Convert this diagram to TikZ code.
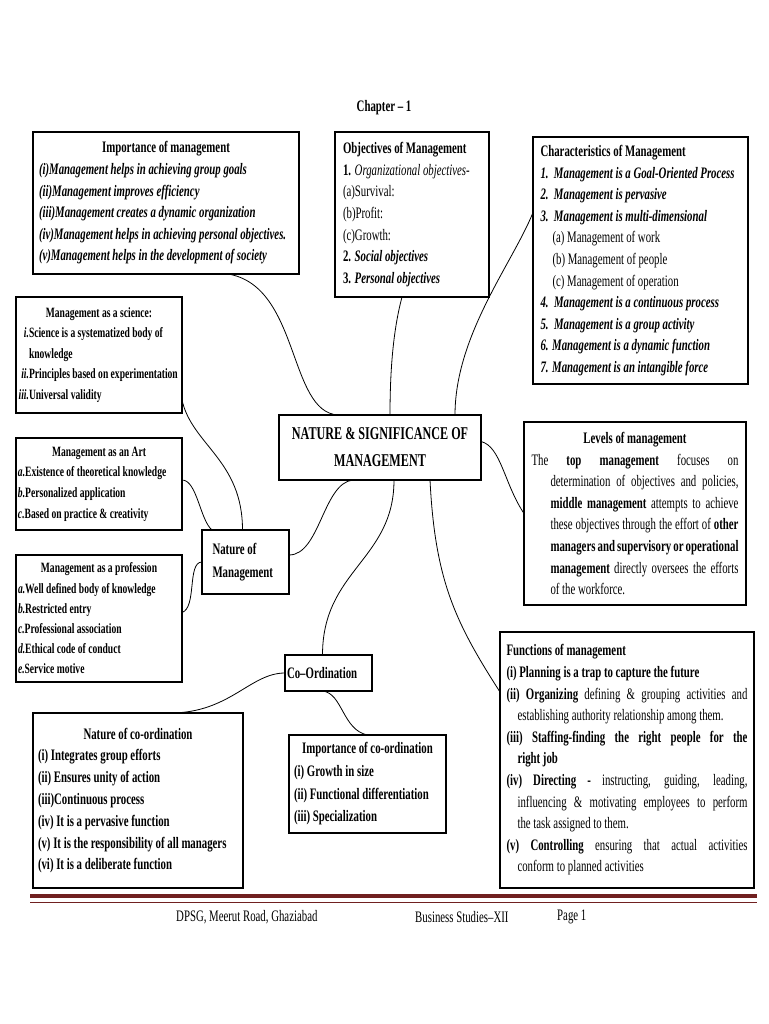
\documentclass[tikz,border=0pt]{standalone}
\usepackage{fontspec}
\setmainfont{Liberation Serif}[FakeStretch=0.675]
\usetikzlibrary{positioning}
\definecolor{footred}{RGB}{112,32,32}

\newcommand{\head}[1]{\makebox[\linewidth]{\textbf{#1}}}
\newcommand{\bi}[1]{\textbf{\textit{#1}}}
\newcommand{\fullln}[1]{\makebox[\linewidth][s]{#1}}
\newcommand{\hangln}[2][11pt]{\hspace*{#1}\makebox[\dimexpr\linewidth-#1\relax][s]{#2}}
\newcommand{\hangend}[2][11pt]{\hspace*{#1}#2}
\newcommand{\numr}[1]{\makebox[11pt][r]{\textit{#1}}}

\begin{document}
\begin{tikzpicture}[x=1pt, y=-1pt,
    card/.style={draw, line width=1.1pt, outer sep=0pt, anchor=north west, align=flush left,
                 font=\fontsize{16}{21.6}\selectfont, inner xsep=6pt, inner ysep=0pt},
    small/.style={card, font=\fontsize{14.2}{20.6}\selectfont\bfseries, inner xsep=2pt},
    wire/.style={line width=0.8pt}]
  \fill[white] (0,0) rectangle (768,1024);
  \useasboundingbox (0,0) rectangle (768,1024);

  \node[font=\fontsize{16}{20}\selectfont\bfseries] (chap) at (384,108) {Chapter -- 1};

  \node[card, text width=254pt, minimum width=266pt, minimum height=142pt] (imp) at (33,132) {%
    \head{Importance of management}\\
    \bi{(i)Management helps in achieving group goals}\\
    \bi{(ii)Management improves efficiency}\\
    \bi{(iii)Management creates a dynamic organization}\\
    \bi{(iv)Management helps in achieving personal objectives.}\\
    \bi{(v)Management helps in the development of society}};

  \node[card, text width=138pt, minimum width=154pt, minimum height=165pt, inner xsep=8pt] (obj) at (335,132) {%
    \textbf{Objectives of Management}\\
    \textbf{1.} \textit{Organizational objectives-}\\
    (a)Survival:\\
    (b)Profit:\\
    (c)Growth:\\
    \textbf{2.} \bi{Social objectives}\\
    \textbf{3.} \bi{Personal objectives}};

  \node[card, text width=200pt, minimum width=215pt, minimum height=247pt, inner xsep=7.5pt] (chr) at (533,137) {%
    \textbf{Characteristics of Management}\\
    \bi{1.\ \ Management is a Goal-Oriented Process}\\
    \bi{2.\ \ Management is pervasive}\\
    \bi{3.\ \ Management is multi-dimensional}\\
    \hspace*{12pt}(a) Management of work\\
    \hspace*{12pt}(b) Management of people\\
    \hspace*{12pt}(c) Management of operation\\
    \bi{4.\ \ Management is a continuous process}\\
    \bi{5.\ \ Management is a group activity}\\
    \bi{6. Management is a dynamic function}\\
    \bi{7. Management is an intangible force}};

  \node[small, text width=162pt, minimum width=166pt, minimum height=116pt] (sci) at (16,297) {%
    \head{Management as a science:}\\
    \numr{i.}Science is a systematized body of\\
    \hspace*{11pt}knowledge\\
    \numr{ii.}Principles based on experimentation\\
    \numr{iii.}Universal validity};

  \node[card, font=\fontsize{18}{27}\selectfont\bfseries, align=flush center, text width=190pt,
        minimum width=201pt, minimum height=65pt] (ctr) at (279,415) {NATURE \& SIGNIFICANCE OF\\MANAGEMENT};

  \node[card, text width=207pt, minimum width=222pt, minimum height=183pt, inner xsep=7.5pt] (lev) at (524,422) {%
    \head{Levels of management}\\
    \fullln{The \textbf{top management} focuses on}\\
    \hangln[19pt]{determination of objectives and policies,}\\
    \hangln[19pt]{\textbf{middle management} attempts to achieve}\\
    \hangln[19pt]{these objectives through the effort of \textbf{other}}\\
    \hangln[19pt]{\textbf{managers and supervisory or operational}}\\
    \hangln[19pt]{\textbf{management} directly oversees the efforts}\\
    \hangend[19pt]{of the workforce.}};

  \node[small, text width=162pt, minimum width=166pt, minimum height=92pt] (art) at (16,438) {%
    \head{Management as an Art}\\
    \textit{a.}Existence of theoretical knowledge\\
    \textit{b.}Personalized application\\
    \textit{c.}Based on practice \& creativity};

  \node[card, font=\fontsize{16}{23}\selectfont\bfseries, text width=66pt, minimum width=87pt,
        minimum height=64pt] (nom) at (202,530) {Nature of\\Management};

  \node[small, font=\fontsize{14.2}{20.2}\selectfont\bfseries, text width=162pt, minimum width=166pt,
        minimum height=127pt] (prof) at (16,555) {%
    \head{Management as a profession}\\
    \textit{a.}Well defined body of knowledge\\
    \textit{b.}Restricted entry\\
    \textit{c.}Professional association\\
    \textit{d.}Ethical code of conduct\\
    \textit{e.}Service motive};

  \node[card, font=\fontsize{16}{21.6}\selectfont\bfseries, text width=83pt, minimum width=87pt,
        minimum height=36pt, inner xsep=2pt] (coord) at (285,655) {Co--Ordination};

  \node[card, text width=241pt, minimum width=254pt, minimum height=256pt, inner xsep=6.5pt] (fun) at (500,632) {%
    \textbf{Functions of management}\\
    \textbf{(i) Planning is a trap to capture the future}\\
    \fullln{\textbf{(ii) Organizing} defining \& grouping activities and}\\
    \hangend{establishing authority relationship among them.}\\
    \fullln{\textbf{(iii) Staffing-finding the right people for the}}\\
    \hangend{\textbf{right job}}\\
    \fullln{\textbf{(iv) Directing -} instructing, guiding, leading,}\\
    \hangln{influencing \& motivating employees to perform}\\
    \hangend{the task assigned to them.}\\
    \fullln{\textbf{(v) Controlling} ensuring that actual activities}\\
    \hangend{conform to planned activities}};

  \node[card, font=\fontsize{16}{21.8}\selectfont\bfseries, text width=200pt, minimum width=210pt,
        minimum height=175pt, inner xsep=5pt] (ncoord) at (33,713) {%
    \head{Nature of co-ordination}\\
    (i) Integrates group efforts\\
    (ii) Ensures unity of action\\
    (iii)Continuous process\\
    (iv) It is a pervasive function\\
    (v) It is the responsibility of all managers\\
    (vi) It is a deliberate function\par\vspace{12pt}};

  \node[card, font=\fontsize{16}{22.7}\selectfont\bfseries, text width=147pt, minimum width=157pt,
        minimum height=98pt, inner xsep=5pt] (icoord) at (289,735) {%
    \head{Importance of co-ordination}\\
    (i) Growth in size\\
    (ii) Functional differentiation\\
    (iii) Specialization};

  \draw[wire] ([xshift=62pt]imp.south) .. controls +(72,12) and +(-50,-3) .. ([xshift=-42pt]ctr.north);
  \draw[wire] ([xshift=-10pt]obj.south) .. controls +(-8,30) and +(0,-50) .. ([xshift=10pt]ctr.north);
  \draw[wire] ([yshift=48pt]chr.west) .. controls +(-20,50) and +(0,-80) .. ([xshift=75pt]ctr.north);
  \draw[wire] ([yshift=6pt]ctr.east) .. controls +(20,5) and +(-20,-30) .. (lev.west);
  \draw[wire] ([xshift=14pt]ctr.south) .. controls +(0,80) and +(0,-85) .. ([xshift=-6pt]coord.north);
  \draw[wire] ([xshift=50pt]ctr.south) .. controls +(5,100) and +(-45,-70) .. ([yshift=-60pt]fun.north west);
  \draw[wire] ([xshift=-27pt]ctr.south) .. controls +(-30,3) and +(31,0) .. ([yshift=7pt]nom.east);
  \draw[wire] ([yshift=-45pt]sci.east) .. controls +(10,45) and +(0,-70) .. ([xshift=-3pt]nom.north);
  \draw[wire] ([yshift=4pt]art.east) .. controls +(15,0) and +(-12,-10) .. ([xshift=10pt]nom.north west);
  \draw[wire] ([yshift=6pt]prof.east) .. controls +(15,-5) and +(-15,0) .. (nom.west);
  \draw[wire] (coord.west) .. controls +(-35,0) and +(60,0) .. ([xshift=32pt]ncoord.north);
  \draw[wire] ([xshift=-6pt]coord.south) .. controls +(20,2) and +(-25,-5) .. (icoord.north);

  \draw[footred, line width=4pt] (30,896) -- (757,896);
  \draw[footred, line width=1pt] (30,902) -- (757,902);
  \node[anchor=west, font=\fontsize{16}{20}\selectfont, inner sep=0pt] (place) at (176,917) {DPSG, Meerut Road, Ghaziabad};
  \node[anchor=west, font=\fontsize{16}{20}\selectfont, inner sep=0pt] (subj) at (415,917) {Business Studies--XII};
  \node[anchor=west, font=\fontsize{16}{20}\selectfont, inner sep=0pt] (page) at (557,917) {Page 1};
\end{tikzpicture}
\end{document}
